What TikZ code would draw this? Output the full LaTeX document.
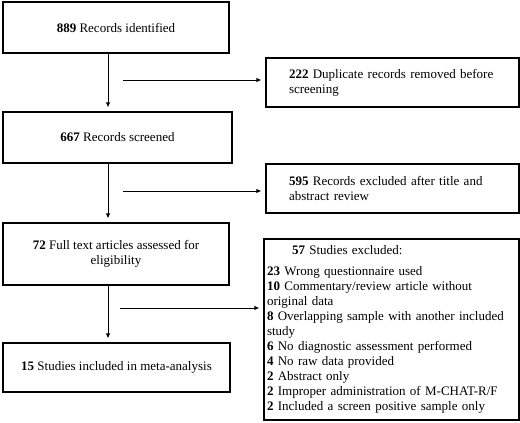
\documentclass[tikz,border=0pt]{standalone}
\usepackage{fontspec}
\setmainfont{Liberation Serif}
\usetikzlibrary{arrows.meta}
\begin{document}
\begin{tikzpicture}[x=1pt,y=-1pt,
  box/.style={draw, line width=1.2pt, inner sep=0pt, font=\fontsize{13}{15}\selectfont},
  arr/.style={line width=1pt, -{Latex[length=5pt,width=4.5pt]}, shorten >=4pt}]
\useasboundingbox (0,0) rectangle (520,423);
\fill[white] (0,0) rectangle (520,423);
% main column
\node[box, minimum width=226pt, minimum height=51pt, align=center] (b889) at (116,27.5) {\textbf{889} Records identified};
\node[box, minimum width=229pt, minimum height=51pt, align=center] (b667) at (117.5,137.5) {\textbf{667} Records screened};
\node[box, minimum width=226pt, minimum height=62pt, align=center] (b72) at (116,254) {\textbf{72} Full text articles assessed for\\eligibility};
\node[box, minimum width=227pt, minimum height=49pt, align=center] (b15) at (116.5,367.5) {\textbf{15} Studies included in meta-analysis};
% side boxes
\node[box, minimum height=49pt, text width=207pt, inner xsep=23pt, align=left] (b222) at (392.5,82.5) {\textbf{222} Duplicate records removed before\\screening};
\node[box, minimum height=49pt, text width=207pt, inner xsep=23pt, align=left] (b595) at (392.5,188.5) {\textbf{595} Records excluded after title and\\abstract review};
\node[box, minimum height=181pt, text width=249pt, inner xsep=3pt, align=left] (b57) at (391.5,329.5) {\hspace*{25pt}\textbf{57} Studies excluded:\\[6pt]
\textbf{23} Wrong questionnaire used\\
\textbf{10} Commentary/review article without\\
original data\\
\textbf{8} Overlapping sample with another included\\
study\\
\textbf{6} No diagnostic assessment performed\\
\textbf{4} No raw data provided\\
\textbf{2} Abstract only\\
\textbf{2} Improper administration of M-CHAT-R/F\\
\textbf{2} Included a screen positive sample only};
% connectors
\coordinate (ax) at (108,0);
\draw[arr] (b889.south -| ax) -- (b667.north -| ax);
\draw[arr] (b667.south -| ax) -- (b72.north -| ax);
\draw[arr] (b72.south -| ax) -- (b15.north -| ax);
\coordinate (h1) at (123,80);
\coordinate (h2) at (123,191);
\coordinate (h3) at (120,308);
\draw[arr] (h1) -- (h1 -| b222.west);
\draw[arr] (h2) -- (h2 -| b595.west);
\draw[arr] (h3) -- (h3 -| b57.west);
\end{tikzpicture}
\end{document}
